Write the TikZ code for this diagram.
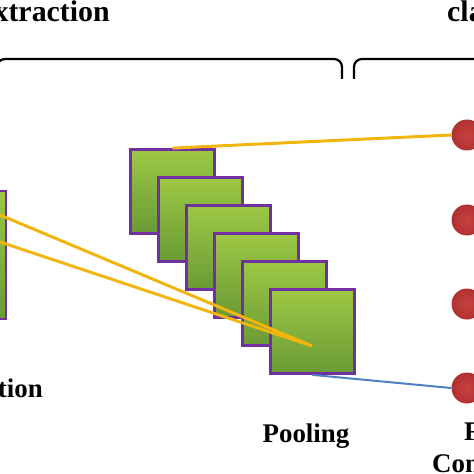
\documentclass[tikz,border=0pt]{standalone}
\usepackage{fontspec}
\setmainfont{Liberation Serif}
\definecolor{sqtop}{HTML}{9DC845}
\definecolor{sqbot}{HTML}{6A9A35}
\definecolor{sqedge}{HTML}{7030A0}
\definecolor{gold}{HTML}{F2B50F}
\definecolor{bluel}{HTML}{4F7FC0}
\definecolor{ballin}{HTML}{C94040}
\definecolor{ballout}{HTML}{B03232}
\tikzset{
  fmap/.style={draw=sqedge, line width=2.8bp, top color=sqtop, bottom color=sqbot, minimum width=84bp, minimum height=84bp, inner sep=0pt},
  neuron/.style={circle, inner sep=0pt, minimum size=31bp, inner color=ballin, outer color=ballout},
  lab/.style={font=\fontsize{27}{31}\selectfont\bfseries, inner sep=0pt},
  toplab/.style={font=\fontsize{30}{34}\selectfont\bfseries, inner sep=0pt},
  goldline/.style={draw=gold, line width=3bp},
  blueline/.style={draw=bluel, line width=2bp},
  brace/.style={draw=black, line width=2.2bp, rounded corners=8bp}
}
\begin{document}
\begin{tikzpicture}[x=1bp, y=-1bp]
\useasboundingbox (0,0) rectangle (474,474);
\clip (0,0) rectangle (474,474);
% labels
\node[toplab, anchor=base east] (tfe) at (110,22) {Feature extraction};
\node[toplab, anchor=base west] (tcl) at (447,22) {classification};
\node[lab, anchor=base east] (tconv) at (43,397) {Convolution};
\node[lab, anchor=base] (tpool) at (306,442) {Pooling};
\node[lab, anchor=base west] (tfully) at (464,440) {Fully};
\node[lab, anchor=base west] (tconn) at (432,472) {Connected};
% braces
\draw[brace] (-3,79) |- (342,59) -- (342,79);
\draw[brace] (354,79) |- (500,59);
% convolution map (cut)
\node[fmap, minimum width=86bp, minimum height=128bp] (conv) at (-37,255) {};
% pooling maps
\foreach \i in {1,...,6}{
  \node[fmap] (p\i) at ({172.5+28*(\i-1)},{191.5+28*(\i-1)}) {};
}
% neurons
\node[neuron] (n1) at (467,135) {};
\node[neuron] (n2) at (467,220) {};
\node[neuron] (n3) at (467,304) {};
\node[neuron] (n4) at (467,388) {};
% connectors
\coordinate (a1) at (0,215);
\coordinate (a2) at (0,242);
\coordinate (pe) at (312,346);
\draw[goldline] (a1) -- (pe);
\draw[goldline] (a2) -- (pe);
\draw[goldline] (p1.north) -- (n1.west);
\draw[blueline] (p6.south) -- (n4.west);
\end{tikzpicture}
\end{document}
